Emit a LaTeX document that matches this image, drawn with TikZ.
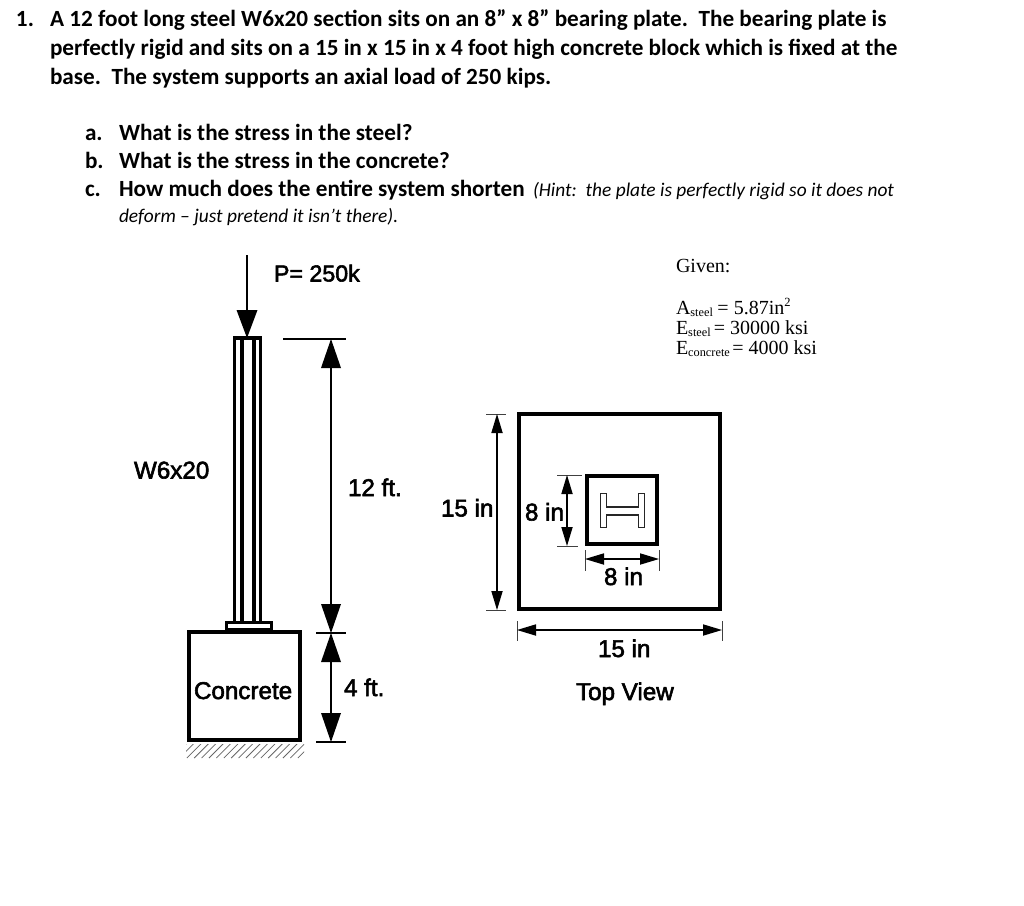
\documentclass[tikz,border=0pt]{standalone}
\usepackage{fontspec}
\setmainfont{Carlito}
\newfontfamily\dfont[FakeBold=2.4]{Liberation Sans}
\newfontfamily\gfont{Liberation Serif}
\usetikzlibrary{arrows.meta}
\tikzset{
  every node/.style={inner sep=0pt,outer sep=0pt},
  q/.style={anchor=base west,font=\fontsize{23.2}{26}\selectfont\bfseries},
  hint/.style={anchor=base west,font=\fontsize{19.4}{22}\selectfont\itshape},
  dlabel/.style={anchor=base west,font=\fontsize{24.2}{26}\selectfont\dfont},
  plabelstyle/.style={anchor=base west,font=\fontsize{23.2}{26}\selectfont\dfont},
  given/.style={anchor=base west,font=\fontsize{20}{22}\selectfont\gfont},
  bigtip/.style={line width=1.8pt,{Triangle[length=29pt,width=20pt,line width=0pt]}-{Triangle[length=29pt,width=20pt,line width=0pt]}},
  smalltip/.style={line width=1.2pt,{Triangle[length=19pt,width=11.5pt,line width=0pt]}-{Triangle[length=19pt,width=11.5pt,line width=0pt]}},
  tick/.style={line width=1.6pt},
  thintick/.style={line width=1pt,black!75},
  boxline/.style={draw,line width=4.4pt},
  hatchline/.style={line width=0.8pt,black!60},
}
\newcommand{\subsc}[1]{\raisebox{-2.5pt}{\fontsize{12.3}{14}\selectfont #1}}
\begin{document}
\begin{tikzpicture}[x=1pt,y=-1pt]
\useasboundingbox (0,0) rectangle (1024,905);
\fill[white] (0,0) rectangle (1024,905);
% problem text
\node[q] (n1) at (16,26.5) {1.};
\node[q] (l1) at (50,26.5) {A 12 foot long steel W6x20 section sits on an 8” x 8” bearing plate.\ \ The bearing plate is};
\node[q] (l2) at (50,55.5) {perfectly rigid and sits on a 15 in x 15 in x 4 foot high concrete block which is fixed at the};
\node[q] (l3) at (50,84.5) {base.\ \ The system supports an axial load of 250 kips.};
\node[q] (a1) at (85,140.5) {a.};
\node[q] (a2) at (119,140.5) {What is the stress in the steel?};
\node[q] (b1) at (85,168.5) {b.};
\node[q] (b2) at (119,168.5) {What is the stress in the concrete?};
\node[q] (c1) at (85,196.5) {c.};
\node[q] (c2) at (119,196.5) {How much does the entire system shorten};
\node[hint] (h1) at (533,196.5) {(Hint:\ \ the plate is perfectly rigid so it does not};
\node[hint] (h2) at (119,222.5) {deform – just pretend it isn’t there).};
% given
\node[given] (g0) at (676,272) {Given:};
\node[given] (g1) at (676,314) {A\subsc{steel}\hspace{-0.5pt} = 5.87in\raisebox{8pt}{\fontsize{12.5}{14}\selectfont 2}};
\node[given] (g2) at (676,334) {E\subsc{steel}\hspace{-2pt} = 30000 ksi};
\node[given] (g3) at (676,354) {E\subsc{concrete}\hspace{-2.5pt} = 4000 ksi};
% column
\coordinate (coltl) at (234.5,338);
\coordinate (coltr) at (260.5,338);
\coordinate (colbl) at (234.5,622);
\coordinate (colbr) at (260.5,622);
\draw[line width=3.4pt] (colbl) -- (coltl) -- (coltr) -- (colbr);
\draw[line width=3.8pt] (242,338) -- (242,622);
\draw[line width=3.8pt] (254,338) -- (254,622);
% load
\coordinate (loadtop) at (247,255);
\coordinate (loadend) at (247,338);
\draw[line width=2.4pt,-{Triangle[length=28pt,width=21pt,line width=0pt]}] (loadtop) -- (loadend);
\node[plabelstyle] (plabel) at (274,281.5) {P= 250k};
\node[dlabel] (wlabel) at (134,478.5) {W6x20};
% base plate and concrete
\node[draw,line width=3.4pt,minimum width=45pt,minimum height=7pt,fill=white] (plate) at (249,626) {};
\node[boxline,minimum width=111pt,minimum height=108pt,fill=white] (conc) at (244.5,686) {};
\node[dlabel] (clabel) at (194,699) {Concrete};
% hatching
\begin{scope}
\clip (186,744) rectangle (304,758);
\foreach \i in {0,...,18}{
  \draw[hatchline] ({172+7.4*\i},758) -- ({188+7.4*\i},742);
}
\end{scope}
% dimension 12 ft, 4 ft
\coordinate (t1l) at (283,339);
\coordinate (t1r) at (346,339);
\coordinate (t2l) at (316,633);
\coordinate (t2r) at (346,633);
\coordinate (t3l) at (316,742);
\coordinate (t3r) at (346,742);
\coordinate (d1) at (331,339);
\coordinate (d2) at (331,633);
\coordinate (d3) at (331,742);
\draw[tick] (t1l) -- (t1r);
\draw[tick] (t2l) -- (t2r);
\draw[tick] (t3l) -- (t3r);
\draw[bigtip] (d1) -- (d2);
\draw[bigtip] (d2) -- (d3);
\node[dlabel] (l12) at (348,496) {12 ft.};
\node[dlabel] (l4) at (344,696) {4 ft.};
% top view
\node[boxline,minimum width=201pt,minimum height=195pt] (outer) at (619.5,511.5) {};
\node[draw,line width=4pt,minimum width=70pt,minimum height=68pt] (inner) at (622,510) {};
\draw[line width=1.5pt,black!85] (600.5,493.5) -- (606.5,493.5) -- (606.5,507) -- (638.5,507) -- (638.5,493.5) -- (644.5,493.5) -- (644.5,527.5) -- (638.5,527.5) -- (638.5,515) -- (606.5,515) -- (606.5,527.5) -- (600.5,527.5) -- cycle;
% 15 in vertical
\coordinate (a1l) at (486,414);
\coordinate (a1r) at (506,414);
\coordinate (a2l) at (486,610);
\coordinate (a2r) at (506,610);
\coordinate (av1) at (497,414);
\coordinate (av2) at (497,610);
\draw[thintick] (a1l) -- (a1r);
\draw[thintick] (a2l) -- (a2r);
\draw[smalltip] (av1) -- (av2);
\node[dlabel] (v15) at (441,516.5) {15 in};
% 8 in vertical
\coordinate (b1l) at (557,475);
\coordinate (b1r) at (582,475);
\coordinate (b2l) at (557,546);
\coordinate (b2r) at (578,546);
\coordinate (bv1) at (567,475);
\coordinate (bv2) at (567,546);
\draw[thintick] (b1l) -- (b1r);
\draw[thintick] (b2l) -- (b2r);
\draw[smalltip] (bv1) -- (bv2);
\node[dlabel] (v8) at (525,520.5) {8 in};
% 8 in horizontal
\coordinate (c1t) at (585,550);
\coordinate (c1b) at (585,571);
\coordinate (c2t) at (659,550);
\coordinate (c2b) at (659,571);
\coordinate (ch1) at (585,559);
\coordinate (ch2) at (659,559);
\draw[thintick] (c1t) -- (c1b);
\draw[thintick] (c2t) -- (c2b);
\draw[smalltip] (ch1) -- (ch2);
\node[dlabel] (h8) at (604,585) {8 in};
% 15 in horizontal
\coordinate (d1t) at (517,621);
\coordinate (d1b) at (517,641);
\coordinate (d2t) at (722,621);
\coordinate (d2b) at (722,641);
\coordinate (dh1) at (517,630);
\coordinate (dh2) at (722,630);
\draw[thintick] (d1t) -- (d1b);
\draw[thintick] (d2t) -- (d2b);
\draw[smalltip] (dh1) -- (dh2);
\node[dlabel] (h15) at (598,657) {15 in};
\node[dlabel] (tv) at (576,700) {Top View};
\end{tikzpicture}
\end{document}
